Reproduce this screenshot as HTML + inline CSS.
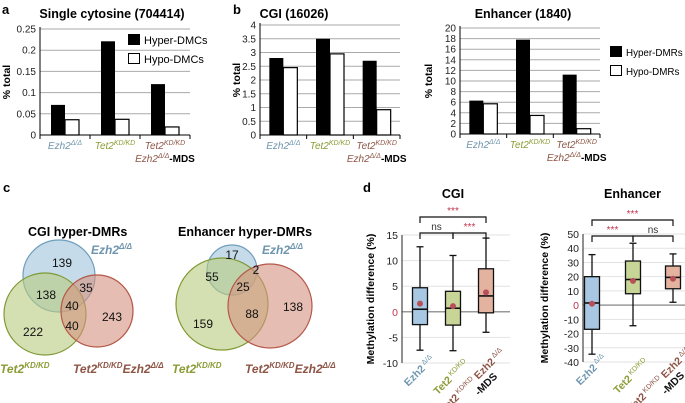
<!DOCTYPE html>
<html><head><meta charset="utf-8">
<style>
html,body{margin:0;padding:0;background:#fff;width:685px;height:403px;overflow:hidden;}
svg{display:block;font-family:"Liberation Sans",Arial,sans-serif;overflow:hidden;}
</style></head>
<body>
<svg id="fig" width="685" height="403" viewBox="0 0 685 403" xmlns="http://www.w3.org/2000/svg">
<g font-weight="bold" font-size="13">
<text x="2" y="14">a</text>
<text x="233" y="14">b</text>
<text x="3" y="192">c</text>
<text x="363" y="192">d</text>
</g>
</svg>
<script>
// ---- bar chart data ----
const barGroups = ["Ezh2", "Tet2", "MDS"];
const singleHyper = [0.071, 0.221, 0.12];
const singleHypo = [0.036, 0.037, 0.019];
const singleTicks = [0, 0.05, 0.1, 0.15, 0.2, 0.25];
const singleTickLabels = ["0", "0.05", "0.1", "0.15", "0.2", "0.25"];
const cgiHyper = [2.8, 3.5, 2.7];
const cgiHypo = [2.45, 2.95, 0.92];
const cgiTicks = [0, 0.5, 1, 1.5, 2, 2.5, 3, 3.5, 4];
const cgiTickLabels = ["0", "0.5", "1", "1.5", "2", "2.5", "3", "3.5", "4"];
const enhHyper = [6.3, 17.8, 11.2];
const enhHypo = [5.7, 3.5, 1.0];
const enhTicks = [0, 2, 4, 6, 8, 10, 12, 14, 16, 18, 20];
const enhTickLabels = ["0", "2", "4", "6", "8", "10", "12", "14", "16", "18", "20"];
// ---- venn data ----
const vennCgiCounts = [139, 138, 35, 40, 40, 243, 222];
const vennEnhCounts = [17, 2, 55, 25, 88, 138, 159];
// ---- box data: [min, q1, median, q3, max, mean] ----
const boxCgiEzh2 = [-7.5, -2.5, 0.5, 4.7, 12.7, 1.6];
const boxCgiTet2 = [-7.6, -2.6, 0.7, 4.0, 11.0, 1.1];
const boxCgiMds = [-4.0, -0.2, 3.1, 8.4, 14.4, 3.8];
const boxEnhEzh2 = [-34.5, -17, 1.5, 20, 35.5, 1];
const boxEnhTet2 = [-14.5, 8, 18, 31, 43.5, 17];
const boxEnhMds = [2, 11.5, 19.5, 27.5, 36, 18.5];
const boxCgiTicks = [-10, -5, 0, 5, 10, 15];
const boxEnhTicks = [-40, -30, -20, -10, 0, 10, 20, 30, 40, 50];

const NS = "http://www.w3.org/2000/svg";
const svg = document.getElementById('fig');
function el(tag, attrs, parent, text) {
  const e = document.createElementNS(NS, tag);
  for (const k in attrs) e.setAttribute(k, attrs[k]);
  if (text !== undefined) e.textContent = text;
  (parent || svg).appendChild(e);
  return e;
}
const BLUE = "#6f96ae", GREEN = "#8c9b35", RED = "#8e5546";

function genoLabel(g, cx, y, kind, size) {
  const fs = size || 10;
  if (kind === 0) {
    const t = el('text', {x: cx, y: y, 'text-anchor': 'middle', 'font-size': fs, 'font-style': 'italic', fill: BLUE}, g);
    
    
    t.innerHTML = 'Ezh2<tspan dy="-4" font-size="7">Δ/Δ</tspan>';
  } else if (kind === 1) {
    const t = el('text', {x: cx, y: y, 'text-anchor': 'middle', 'font-size': fs, 'font-style': 'italic', fill: GREEN}, g);
    
    
    t.innerHTML = 'Tet2<tspan dy="-4" font-size="7">KD/KD</tspan>';
  } else {
    const t = el('text', {x: cx, y: y, 'text-anchor': 'middle', 'font-size': fs, 'font-style': 'italic', fill: RED}, g);
    
    
    t.innerHTML = 'Tet2<tspan dy="-4" font-size="7">KD/KD</tspan>';
    const t2 = el('text', {x: cx, y: y + 13, 'text-anchor': 'middle', 'font-size': fs, 'font-style': 'italic', fill: RED}, g);
    
    
    t2.innerHTML = 'Ezh2<tspan dy="-4" font-size="7">Δ/Δ</tspan><tspan dy="4" font-style="normal" font-weight="bold" fill="#000">-MDS</tspan>';
  }
}

function barChart(o) {
  const g = el('g', {});
  
  
  const ymax = o.ticks[o.ticks.length - 1];
  const ys = v => o.y0 - v / ymax * (o.y0 - o.yTop);
  const gw = (o.x1 - o.x0) / o.hyper.length;
  o.ticks.forEach((t, i) => {
    if (t > 0) {
      const l = el('line', {x1: o.x0, x2: o.x1, y1: ys(t), y2: ys(t), stroke: '#aaa', 'stroke-width': 1}, g);
      
      
    }
    const tx = el('text', {x: o.x0 - 4, y: ys(t) + 3.5, 'text-anchor': 'end', 'font-size': 10, fill: '#222'}, g, o.tickLabels[i]);
    
    
  });
  o.hyper.forEach((v, i) => {
    const cx = o.x0 + gw * (i + 0.5);
    const b = el('rect', {x: cx - o.bw, y: ys(v), width: o.bw, height: o.y0 - ys(v), fill: '#000'}, g);
    
    
    const w = o.hypo[i];
    const b2 = el('rect', {x: cx, y: ys(w), width: o.bw, height: o.y0 - ys(w), fill: '#fff', stroke: '#000', 'stroke-width': 1.2}, g);
    
    
    genoLabel(g, cx, o.y0 + 14, i);
  });
  const ax = el('path', {d: `M${o.x0},${o.yTop - 2}V${o.y0}H${o.x1}`, fill: 'none', stroke: '#000', 'stroke-width': 1}, g);
  
  
  for (let i = 0; i <= o.hyper.length; i++) {
    const tk = el('line', {x1: o.x0 + gw * i, x2: o.x0 + gw * i, y1: o.y0, y2: o.y0 + 4, stroke: '#000'}, g);
    
    
  }
  const tt = el('text', {x: o.titleX, y: 18, 'text-anchor': 'middle', 'font-size': 12.5, 'font-weight': 'bold'}, g, o.title);
  
  
  if (o.ylab) {
    const yl = el('text', {x: 0, y: 0, 'text-anchor': 'middle', 'font-size': 10.5, 'font-weight': 'bold', transform: `translate(${o.ylab},${(o.y0 + o.yTop) / 2}) rotate(-90)`}, g, '% total');
    
    
  }
  if (o.legend) {
    const [lx, ly, s1, s2, fs] = o.legend;
    const r1 = el('rect', {x: lx, y: ly, width: 12, height: 11, fill: '#000'}, g);
    
    
    const t1 = el('text', {x: lx + 16, y: ly + 10, 'font-size': fs}, g, s1);
    
    
    const r2 = el('rect', {x: lx + 0.5, y: ly + 19.5, width: 11, height: 10, fill: '#fff', stroke: '#000'}, g);
    
    
    const t2 = el('text', {x: lx + 16, y: ly + 29, 'font-size': fs}, g, s2);
    
    
  }
}
barChart({name: 'chart-single-cytosine', hyper: singleHyper, hypo: singleHypo, ticks: singleTicks, tickLabels: singleTickLabels,
  x0: 40, x1: 190, y0: 135, yTop: 29, bw: 14, title: 'Single cytosine (704414)', titleX: 112, ylab: 10,
  legend: [128, 34, 'Hyper-DMCs', 'Hypo-DMCs', 11]});
barChart({name: 'chart-cgi', hyper: cgiHyper, hypo: cgiHypo, ticks: cgiTicks, tickLabels: cgiTickLabels,
  x0: 260, x1: 400, y0: 135, yTop: 25, bw: 14, title: 'CGI (16026)', titleX: 294, ylab: 240});
barChart({name: 'chart-enhancer', hyper: enhHyper, hypo: enhHypo, ticks: enhTicks, tickLabels: enhTickLabels,
  x0: 460, x1: 600, y0: 134, yTop: 28, bw: 14, title: 'Enhancer (1840)', titleX: 523, ylab: 432,
  legend: [610, 46, 'Hyper-DMRs', 'Hypo-DMRs', 9.8]});

// ---- Venn diagrams ----
function venn(o) {
  const g = el('g', {});
  
  
  const tt = el('text', {x: o.titleX, y: 236, 'font-size': 12.5, 'font-weight': 'bold'}, g, o.title);
  
  
  const fills = [['#9fc3da', '#6f9ebc'], ['#b9cc7f', '#7f9a35'], ['#d6917f', '#b4584a']];
  const names = ['circle-ezh2', 'circle-tet2', 'circle-double'];
  o.circles.forEach((c, i) => {
    const ci = el('circle', {cx: c[0], cy: c[1], r: c[2], fill: fills[i][0], 'fill-opacity': 0.6, stroke: fills[i][1], 'stroke-width': 1.2}, g);
    
    
  });
  o.counts.forEach((v, i) => {
    const t = el('text', {x: o.pos[i][0], y: o.pos[i][1], 'text-anchor': 'middle', 'font-size': 12, fill: '#111'}, g, String(v));
    
    
  });
  const l1 = el('text', {x: o.lab[0][0], y: o.lab[0][1], 'font-size': 12, 'font-weight': 'bold', 'font-style': 'italic', fill: BLUE}, g);
  
  
  l1.innerHTML = 'Ezh2<tspan dy="-5" font-size="8">Δ/Δ</tspan>';
  const l2 = el('text', {x: o.lab[1][0], y: o.lab[1][1], 'font-size': 12, 'font-weight': 'bold', 'font-style': 'italic', fill: GREEN}, g);
  
  
  l2.innerHTML = 'Tet2<tspan dy="-5" font-size="8">KD/KD</tspan>';
  const l3 = el('text', {x: o.lab[2][0], y: o.lab[2][1], 'font-size': 12, 'font-weight': 'bold', 'font-style': 'italic', fill: RED}, g);
  
  
  l3.innerHTML = 'Tet2<tspan dy="-5" font-size="8">KD/KD</tspan><tspan dy="5">Ezh2</tspan><tspan dy="-5" font-size="8">Δ/Δ</tspan>';
}
venn({name: 'venn-cgi', title: 'CGI hyper-DMRs', titleX: 28, counts: vennCgiCounts,
  circles: [[59, 276, 36], [45, 314, 41], [97, 311, 36]],
  pos: [[62, 267], [46, 299], [86, 292], [72, 310], [72, 330], [112, 321], [33, 336]],
  lab: [[91, 254], [0, 373], [73, 373]]});
venn({name: 'venn-enhancer', title: 'Enhancer hyper-DMRs', titleX: 178, counts: vennEnhCounts,
  circles: [[232, 270, 25], [222, 304, 46], [270, 306, 42]],
  pos: [[232, 259], [256, 274], [212, 281], [243, 291], [252, 318], [293, 311], [203, 328]],
  lab: [[262, 254], [172, 373], [245, 373]]});

// ---- Box plots ----
function boxPlot(o) {
  const g = el('g', {});
  
  
  const lo = o.ticks[0], hi = o.ticks[o.ticks.length - 1];
  const ys = v => o.yBot - (v - lo) / (hi - lo) * (o.yBot - o.yTop);
  o.ticks.forEach(t => {
    const gl = el('line', {x1: o.x0, x2: o.x1, y1: ys(t), y2: ys(t), stroke: t === 0 ? '#999' : '#e2e2e2', 'stroke-width': t === 0 ? 1.5 : 1}, g);
    
    
    const tx = el('text', {x: o.x0 - 4, y: ys(t) + 4, 'text-anchor': 'end', 'font-size': 10.5, fill: t === 0 ? '#c0344f' : '#222'}, g, String(t));
    
    
  });
  const ax = el('line', {x1: o.x0, x2: o.x0, y1: o.yTop, y2: o.yBot, stroke: '#222'}, g);
  
  
  const cols = ['#a7c7e3', '#c7d597', '#e3b39f'];
  const names = ['ezh2', 'tet2', 'double'];
  o.boxes.forEach((b, i) => {
    const cx = o.cx[i], w = 7.5;
    const wh = el('line', {x1: cx, x2: cx, y1: ys(b[0]), y2: ys(b[4]), stroke: '#111', 'stroke-width': 1.3}, g);
    
    
    [b[0], b[4]].forEach(v => {
      const c = el('line', {x1: cx - 3.5, x2: cx + 3.5, y1: ys(v), y2: ys(v), stroke: '#111', 'stroke-width': 1.3}, g);
      
      
    });
    const r = el('rect', {x: cx - w, y: ys(b[3]), width: 2 * w, height: ys(b[1]) - ys(b[3]), fill: cols[i], stroke: '#111', 'stroke-width': 1.3}, g);
    
    
    const m = el('line', {x1: cx - w, x2: cx + w, y1: ys(b[2]), y2: ys(b[2]), stroke: '#111', 'stroke-width': 1.6}, g);
    
    
    const mn = el('circle', {cx: cx, cy: ys(b[5]), r: 3, fill: '#b8505a'}, g);
    
    
  });
  const labs = [['Ezh2', 'Δ/Δ', BLUE], ['Tet2', 'KD/KD', GREEN], ['Tet2', 'KD/KD', RED]];
  const offs = [[15, -3], [16, 1], [19, -10]];
  labs.forEach((l, i) => {
    const t = el('text', {x: 0, y: 0, 'text-anchor': 'end', 'font-size': 10.5, 'font-weight': 'bold', fill: l[2], transform: `translate(${o.cx[i] + offs[i][0]},${o.yBot + offs[i][1]}) rotate(-45)`}, g);
    
    
    t.innerHTML = l[0] + '<tspan dy="-4" font-size="7" font-weight="normal"> ' + l[1] + '</tspan>' + (i === 2 ? '<tspan dy="4"> Ezh2</tspan><tspan dy="-4" font-size="7" font-weight="normal"> Δ/Δ</tspan>' : '');
  });
  const mds = el('text', {x: 0, y: 0, 'text-anchor': 'end', 'font-size': 10.5, 'font-weight': 'bold', fill: '#111', transform: `translate(${o.cx[2] + 12},${o.yBot + 14}) rotate(-45)`}, g, '-MDS');
  
  
  const yl = el('text', {x: 0, y: 0, 'text-anchor': 'middle', 'font-size': 10.5, 'font-weight': 'bold', transform: `translate(${o.ylab},${(o.yTop + o.yBot) / 2}) rotate(-90)`}, g, 'Methylation difference (%)');
  
  
  const tt = el('text', {x: (o.cx[0] + o.cx[2]) / 2, y: 198, 'text-anchor': 'middle', 'font-size': 12.5, 'font-weight': 'bold'}, g, o.title);
  
  
  o.brackets.forEach(br => {
    const [a, b, y, lab] = br;
    const p = el('path', {d: `M${o.cx[a]},${y + 6}V${y}H${o.cx[b]}V${y + 6}`, fill: 'none', stroke: '#111', 'stroke-width': 1.2}, g);
    
    
    const t = el('text', {x: (o.cx[a] + o.cx[b]) / 2, y: y - 3, 'text-anchor': 'middle', 'font-size': 10, fill: lab === 'ns' ? '#333' : '#c0344f'}, g, lab);
    
    
  });
}
boxPlot({name: 'boxplot-cgi', title: 'CGI', boxes: [boxCgiEzh2, boxCgiTet2, boxCgiMds], ticks: boxCgiTicks,
  x0: 402, x1: 510, yTop: 235, yBot: 363, cx: [420, 453, 486], ylab: 374,
  brackets: [[0, 2, 217, '***'], [0, 1, 233, 'ns'], [1, 2, 233, '***']]});
boxPlot({name: 'boxplot-enhancer', title: 'Enhancer', boxes: [boxEnhEzh2, boxEnhTet2, boxEnhMds], ticks: boxEnhTicks,
  x0: 583, x1: 685, yTop: 234, yBot: 362, cx: [592, 633, 673], ylab: 548,
  brackets: [[0, 2, 220, '***'], [0, 1, 236, '***'], [1, 2, 236, 'ns']]});
</script>
</body></html>
